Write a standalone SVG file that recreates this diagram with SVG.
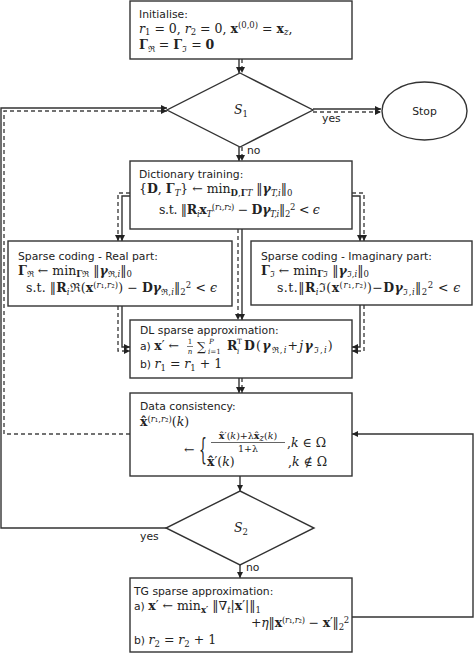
<svg xmlns="http://www.w3.org/2000/svg" width="474" height="654" viewBox="0 0 474 654">
<style>
.bx{fill:#fff;stroke:#333;stroke-width:1.4}
.c{fill:none;stroke:#333;stroke-width:1.4}
.d{fill:none;stroke:#444;stroke-width:1.4;stroke-dasharray:4 3}
.t{font-family:"DejaVu Sans",sans-serif;font-size:10.8px;fill:#222}
.m{font-family:"DejaVu Serif",serif;font-size:12.5px;fill:#222}
.i{font-style:italic}
.b{font-weight:bold}
.s{font-size:8.5px}
.l{font-size:7.2px}
.f{font-size:9.5px}
</style>
<defs>
<marker id="ah" markerUnits="userSpaceOnUse" markerWidth="7" markerHeight="6" refX="6" refY="3" orient="auto"><path d="M0,0 L6,3 L0,6 z" fill="#222"/></marker>
</defs>
<rect width="474" height="654" fill="#fff"/>
<g id="connectors">
<path class="c" d="M239,59 V73" marker-end="url(#ah)"/>
<path class="d" d="M242,59 V73" marker-end="url(#ah)"/>
<path class="c" d="M313,109 H381" marker-end="url(#ah)"/>
<path class="d" d="M313,112 H381" marker-end="url(#ah)"/>
<path class="c" d="M239,147 V161" marker-end="url(#ah)"/>
<path class="d" d="M242,147 V161" marker-end="url(#ah)"/>
<path class="d" d="M130,193 H118 V241" marker-end="url(#ah)"/>
<path class="c" d="M130,196 H122 V241" marker-end="url(#ah)"/>
<path class="d" d="M352,193 H364 V241" marker-end="url(#ah)"/>
<path class="c" d="M352,196 H360 V241" marker-end="url(#ah)"/>
<path class="d" d="M238,229 V320" marker-end="url(#ah)"/>
<path class="c" d="M242,229 V320" marker-end="url(#ah)"/>
<path class="d" d="M118,306 V351 H130" marker-end="url(#ah)"/>
<path class="c" d="M122,306 V347 H130" marker-end="url(#ah)"/>
<path class="d" d="M364,305 V351 H352" marker-end="url(#ah)"/>
<path class="c" d="M360,305 V347 H352" marker-end="url(#ah)"/>
<path class="c" d="M239,378 V393" marker-end="url(#ah)"/>
<path class="d" d="M242,378 V393" marker-end="url(#ah)"/>
<path class="d" d="M130,434 H4 V111 H167" marker-end="url(#ah)"/>
<path class="c" d="M167,528 H1 V108 H167" marker-end="url(#ah)"/>
<path class="c" d="M240,476 V491" marker-end="url(#ah)"/>
<path class="c" d="M240,565 V578" marker-end="url(#ah)"/>
<path class="c" d="M352,617 H473 V434 H352" marker-end="url(#ah)"/>
<text class="t" x="322" y="122">yes</text>
<text class="t" x="247" y="154">no</text>
<text class="t" x="140" y="540">yes</text>
<text class="t" x="246" y="571">no</text>
</g>
<g id="init">
<rect class="bx" x="130" y="1" width="222" height="58"/>
<text class="t" x="139" y="18">Initialise:</text>
<text class="m" x="139" y="32.5"><tspan class="i">r</tspan><tspan class="s" dy="2.5">1</tspan><tspan dy="-2.5"> = 0, </tspan><tspan class="i">r</tspan><tspan class="s" dy="2.5">2</tspan><tspan dy="-2.5"> = 0, </tspan><tspan class="b">x</tspan><tspan class="s" dy="-4.5">(0,0)</tspan><tspan dy="4.5"> = </tspan><tspan class="b">x</tspan><tspan class="s i" dy="2.5">z</tspan><tspan dy="-2.5">,</tspan></text>
<text class="m" x="139" y="49"><tspan class="b">Γ</tspan><tspan class="s" dy="2.5">ℜ</tspan><tspan dy="-2.5"> = </tspan><tspan class="b">Γ</tspan><tspan class="s" dy="2.5">ℑ</tspan><tspan dy="-2.5"> = </tspan><tspan class="b">0</tspan></text>
</g>
<g id="s1">
<polygon class="bx" points="240,73 313,110 240,147 167,110"/>
<text class="m" x="234" y="114" font-size="13"><tspan class="i">S</tspan><tspan class="s" dy="2.5">1</tspan></text>
</g>
<g id="stop">
<ellipse class="bx" cx="424.5" cy="111" rx="42.5" ry="29"/>
<text class="t" x="424.5" y="115" text-anchor="middle">Stop</text>
</g>
<g id="dict">
<rect class="bx" x="130" y="161" width="222" height="68"/>
<text class="t" x="139" y="178">Dictionary training:</text>
<text class="m" x="139" y="193">{<tspan class="b">D</tspan>, <tspan class="b">Γ</tspan><tspan class="s i" dy="2.5">T</tspan><tspan dy="-2.5">} ← min</tspan><tspan class="s" dy="2.5"><tspan class="b">D</tspan>,<tspan class="b">Γ</tspan><tspan class="i">T</tspan></tspan><tspan dy="-2.5"> ‖</tspan><tspan class="b i">γ</tspan><tspan class="s i" dy="2.5">T,i</tspan><tspan dy="-2.5">‖</tspan><tspan class="s" dy="2.5">0</tspan></text>
<text class="m" x="159" y="214" letter-spacing="-0.3">s.t. ‖<tspan class="b">R</tspan><tspan class="s i" dy="2.5">i</tspan><tspan dy="-2.5" class="b">x</tspan><tspan class="s i" dy="2.5">T</tspan><tspan class="s" dy="-7">(<tspan class="i">r</tspan>₁,<tspan class="i">r</tspan>₂)</tspan><tspan dy="4.5"> − </tspan><tspan class="b">D</tspan><tspan class="b i">γ</tspan><tspan class="s i" dy="2.5">T,i</tspan><tspan dy="-2.5">‖</tspan><tspan class="s" dy="2.5">2</tspan><tspan class="s" dy="-7">2</tspan><tspan dy="4.5"> &lt; </tspan><tspan class="i">ϵ</tspan></text>
</g>
<g id="real">
<rect class="bx" x="8" y="241" width="224" height="65"/>
<text class="t" x="18" y="260">Sparse coding - Real part:</text>
<text class="m" x="18" y="274.5"><tspan class="b">Γ</tspan><tspan class="s" dy="2.5">ℜ</tspan><tspan dy="-2.5"> ← min</tspan><tspan class="s" dy="2.5"><tspan class="b">Γ</tspan>ℜ</tspan><tspan dy="-2.5"> ‖</tspan><tspan class="b i">γ</tspan><tspan class="s" dy="2.5">ℜ,<tspan class="i">i</tspan></tspan><tspan dy="-2.5">‖</tspan><tspan class="s" dy="2.5">0</tspan></text>
<text class="m" x="26" y="292" letter-spacing="0.1">s.t. ‖<tspan class="b">R</tspan><tspan class="s i" dy="2.5">i</tspan><tspan dy="-2.5">ℜ(</tspan><tspan class="b">x</tspan><tspan class="s" dy="-4.5">(<tspan class="i">r</tspan>₁,<tspan class="i">r</tspan>₂)</tspan><tspan dy="4.5">) − </tspan><tspan class="b">D</tspan><tspan class="b i">γ</tspan><tspan class="s" dy="2.5">ℜ,<tspan class="i">i</tspan></tspan><tspan dy="-2.5">‖</tspan><tspan class="s" dy="2.5">2</tspan><tspan class="s" dy="-7">2</tspan><tspan dy="4.5"> &lt; </tspan><tspan class="i">ϵ</tspan></text>
</g>
<g id="imag">
<rect class="bx" x="251" y="241" width="221" height="64"/>
<text class="t" x="261" y="260">Sparse coding - Imaginary part:</text>
<text class="m" x="261" y="274.5"><tspan class="b">Γ</tspan><tspan class="s" dy="2.5">ℑ</tspan><tspan dy="-2.5"> ← min</tspan><tspan class="s" dy="2.5"><tspan class="b">Γ</tspan>ℑ</tspan><tspan dy="-2.5"> ‖</tspan><tspan class="b i">γ</tspan><tspan class="s" dy="2.5">ℑ,<tspan class="i">i</tspan></tspan><tspan dy="-2.5">‖</tspan><tspan class="s" dy="2.5">0</tspan></text>
<text class="m" x="277" y="292" letter-spacing="0.45">s.t.‖<tspan class="b">R</tspan><tspan class="s i" dy="2.5">i</tspan><tspan dy="-2.5">ℑ(</tspan><tspan class="b">x</tspan><tspan class="s" dy="-4.5">(<tspan class="i">r</tspan>₁,<tspan class="i">r</tspan>₂)</tspan><tspan dy="4.5">)−</tspan><tspan class="b">D</tspan><tspan class="b i">γ</tspan><tspan class="s" dy="2.5">ℑ,<tspan class="i">i</tspan></tspan><tspan dy="-2.5">‖</tspan><tspan class="s" dy="2.5">2</tspan><tspan class="s" dy="-7">2</tspan><tspan dy="4.5"> &lt; </tspan><tspan class="i">ϵ</tspan></text>
</g>
<g id="dl">
<rect class="bx" x="130" y="320" width="222" height="58"/>
<text class="t" x="140" y="334">DL sparse approximation:</text>
<text class="m" x="140" y="350"><tspan class="t">a) </tspan><tspan class="b">x</tspan>′ ←</text>
<text class="m l" x="190" y="344" text-anchor="middle">1</text>
<line x1="187" y1="346.5" x2="193" y2="346.5" stroke="#222" stroke-width="0.6"/>
<text class="m l i" x="190" y="354" text-anchor="middle">n</text>
<text class="m" x="197" y="351">∑</text>
<text class="m l i" x="209" y="343.5">P</text>
<text class="m l" x="208" y="354"><tspan class="i">i</tspan>=1</text>
<text class="m b" x="227" y="350">R</text>
<text class="m l" x="237" y="343.5">T</text>
<text class="m l i" x="237" y="354">i</text>
<text class="m" x="244" y="350" letter-spacing="1.2"><tspan class="b">D</tspan>(<tspan class="b i">γ</tspan><tspan class="s" dy="2.5">ℜ,<tspan class="i">i</tspan></tspan><tspan dy="-2.5">+</tspan><tspan class="i">j</tspan><tspan class="b i">γ</tspan><tspan class="s" dy="2.5">ℑ,<tspan class="i">i</tspan></tspan><tspan dy="-2.5">)</tspan></text>
<text class="m" x="140" y="368"><tspan class="t">b) </tspan><tspan class="i">r</tspan><tspan class="s" dy="2.5">1</tspan><tspan dy="-2.5"> = </tspan><tspan class="i">r</tspan><tspan class="s" dy="2.5">1</tspan><tspan dy="-2.5"> + 1</tspan></text>
</g>
<g id="dc">
<rect class="bx" x="130" y="393" width="222" height="83"/>
<text class="t" x="140" y="410">Data consistency:</text>
<text class="m" x="140" y="426"><tspan class="b">x̂</tspan><tspan class="s" dy="-4.5">(<tspan class="i">r</tspan>₁,<tspan class="i">r</tspan>₂)</tspan><tspan dy="4.5">(</tspan><tspan class="i">k</tspan>)</text>
<text class="m" x="184" y="454">←</text>
<text class="m" x="0" y="0" font-size="14" transform="translate(199,459) scale(1,2.4)">{</text>
<text class="m f" x="248" y="439" text-anchor="middle"><tspan class="b">x̂</tspan>′(<tspan class="i">k</tspan>)+λ<tspan class="b">x̂</tspan><tspan class="s i" dy="2">z</tspan><tspan dy="-2">(</tspan><tspan class="i">k</tspan>)</text>
<line x1="211" y1="442.5" x2="285" y2="442.5" stroke="#222" stroke-width="0.7"/>
<text class="m f" x="248" y="452" text-anchor="middle">1+λ</text>
<text class="m" x="287" y="447">,<tspan class="i">k</tspan> ∈ Ω</text>
<text class="m" x="207" y="466"><tspan class="b">x̂</tspan>′(<tspan class="i">k</tspan>)</text>
<text class="m" x="288" y="466">,<tspan class="i">k</tspan> ∉ Ω</text>
</g>
<g id="s2">
<polygon class="bx" points="240,491 314,528 240,565 166,528"/>
<text class="m" x="234" y="532" font-size="13"><tspan class="i">S</tspan><tspan class="s" dy="2.5">2</tspan></text>
</g>
<g id="tg">
<rect class="bx" x="130" y="578" width="222" height="74"/>
<text class="t" x="134" y="595">TG sparse approximation:</text>
<text class="m" x="134" y="610"><tspan class="t">a) </tspan><tspan class="b">x</tspan>′ ← min<tspan class="s b" dy="2.5">x′</tspan><tspan dy="-2.5"> ‖∇</tspan><tspan class="s i" dy="2.5">t</tspan><tspan dy="-2.5">|</tspan><tspan class="b">x</tspan>′|‖<tspan class="s" dy="2.5">1</tspan></text>
<text class="m" x="251" y="627" letter-spacing="-0.2">+<tspan class="i">η</tspan>‖<tspan class="b">x</tspan><tspan class="s" dy="-4.5">(<tspan class="i">r</tspan>₁,<tspan class="i">r</tspan>₂)</tspan><tspan dy="4.5"> − </tspan><tspan class="b">x</tspan>′‖<tspan class="s" dy="2.5">2</tspan><tspan class="s" dy="-7">2</tspan></text>
<text class="m" x="134" y="644"><tspan class="t">b) </tspan><tspan class="i">r</tspan><tspan class="s" dy="2.5">2</tspan><tspan dy="-2.5"> = </tspan><tspan class="i">r</tspan><tspan class="s" dy="2.5">2</tspan><tspan dy="-2.5"> + 1</tspan></text>
</g>
</svg>
